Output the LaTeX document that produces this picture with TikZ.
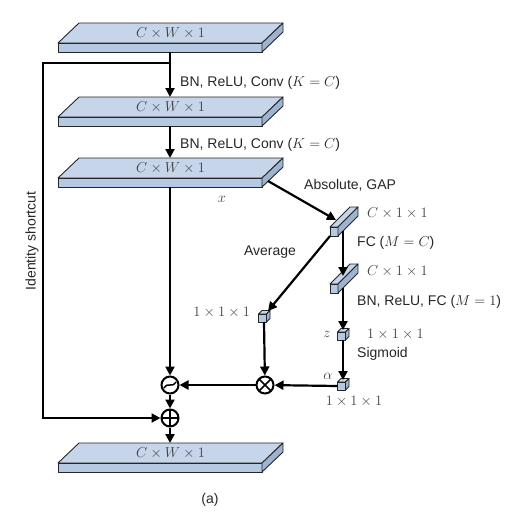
\documentclass[tikz,border=0pt]{standalone}
\usepackage{fontspec}
\usepackage{amsmath}
\setsansfont{Liberation Sans}
\usetikzlibrary{arrows.meta,calc}
\definecolor{slabtop}{RGB}{198,213,234}
\definecolor{slabfront}{RGB}{181,201,226}
\definecolor{slabside}{RGB}{157,179,208}

\tikzset{
  edge/.style={line width=2.2pt, -{Triangle[length=9pt,width=9pt]}},
  face/.style={draw=black!85, line width=0.9pt, line join=round},
  lbl/.style={font=\fontsize{14}{16}\selectfont\sffamily, text=black!85, inner sep=1pt},
  dim/.style={font=\fontsize{14}{16}\selectfont, text=black!75, inner sep=1pt},
  op/.style={circle, draw, line width=2pt, minimum size=17pt, inner sep=0pt},
  times/.style={op, path picture={\draw[line width=1.5pt]
      ([shift={(45:9pt)}]path picture bounding box.center) -- ([shift={(225:9pt)}]path picture bounding box.center)
      ([shift={(135:9pt)}]path picture bounding box.center) -- ([shift={(315:9pt)}]path picture bounding box.center);}},
  plus/.style={op, path picture={\draw[line width=1.5pt]
      (path picture bounding box.north) -- (path picture bounding box.south)
      (path picture bounding box.west) -- (path picture bounding box.east);}},
  divide/.style={op, path picture={\draw[line width=1.5pt]
      ([shift={(-6pt,-3pt)}]path picture bounding box.center) .. controls ([shift={(-1pt,4pt)}]path picture bounding box.center)
      and ([shift={(1pt,-4pt)}]path picture bounding box.center) .. ([shift={(6pt,3pt)}]path picture bounding box.center);}},
}

% flat feature map C x W x 1: name, y of front edge, text
\newcommand{\slab}[3]{%
  \draw[face, fill=slabtop] (58,#2) -- (79,#2-20) -- (283,#2-20) -- (262,#2) -- cycle;
  \draw[face, fill=slabfront] (58,#2) rectangle (262,#2+9);
  \draw[face, fill=slabside] (262,#2) -- (283,#2-20) -- (283,#2-11) -- (262,#2+9) -- cycle;
  \node[dim] (#1) at (170.5,#2-10) {#3};
  \coordinate (#1-in) at (170,#2-20);
  \coordinate (#1-out) at (170,#2+9);
  \coordinate (#1-side) at (268,#2+3);
}
% channel vector C x 1 x 1: name, x and y of front face corner
\newcommand{\rod}[3]{%
  \draw[face, fill=slabtop] (#2,#3) -- (#2+20,#3-20) -- (#2+28,#3-20) -- (#2+8,#3) -- cycle;
  \draw[face, fill=slabfront] (#2,#3) rectangle (#2+8,#3+9);
  \draw[face, fill=slabside] (#2+8,#3) -- (#2+28,#3-20) -- (#2+28,#3-11) -- (#2+8,#3+9) -- cycle;
  \coordinate (#1-top) at (#2+13,#3-8);
  \coordinate (#1-bot) at (#2+13,#3+4);
  \coordinate (#1-edge) at (#2+6,#3-7);
  \coordinate (#1-corner) at (#2,#3+9);
}
% scalar 1 x 1 x 1: name, centre
\newcommand{\cubelet}[3]{%
  \draw[face, fill=slabtop] (#2-5.5,#3-2) -- (#2-2,#3-5.5) -- (#2+6,#3-5.5) -- (#2+2.5,#3-2) -- cycle;
  \draw[face, fill=slabfront] (#2-5.5,#3-2) rectangle (#2+2.5,#3+6);
  \draw[face, fill=slabside] (#2+2.5,#3-2) -- (#2+6,#3-5.5) -- (#2+6,#3+2.5) -- (#2+2.5,#3+6) -- cycle;
  \coordinate (#1-n) at (#2,#3-4);
  \coordinate (#1-s) at (#2,#3+6);
  \coordinate (#1-w) at (#2-5.5,#3+2);
  \coordinate (#1-ne) at (#2+4,#3-5);
}

\begin{document}
\begin{tikzpicture}[x=1pt,y=-1pt]
  \useasboundingbox (0,0) rectangle (514,525);

  % feature maps
  \slab{inp}{43}{$C \times W \times 1$}
  \slab{mid}{117}{$C \times W \times 1$}
  \slab{feat}{178}{$C \times W \times 1$}
  \slab{res}{463}{$C \times W \times 1$}

  % threshold branch
  \rod{gap}{330}{227}
  \rod{fc}{330}{284}
  \cubelet{avg}{264}{316}
  \cubelet{z}{343}{334}
  \cubelet{alpha}{343}{384}

  \node[divide] (div) at (170,385) {};
  \node[plus] (add) at (170,418) {};
  \node[times] (mul) at (265,385) {};

  \coordinate (fork) at (170,63);
  \coordinate (sc-a) at (43,63);
  \coordinate (sc-b) at (43,418);

  % connectors
  \draw[edge] (inp-out) -- (mid-in);
  \draw[edge] (mid-out) -- (feat-in);
  \draw[edge] (feat-out) -- (div);
  \draw[edge] (div) -- (add);
  \draw[edge] (add) -- (res-in);
  \draw[edge, line join=miter] (fork) -- (sc-a) -- (sc-b) -- (add);
  \draw[edge] (feat-side) -- (gap-edge);
  \draw[edge] (gap-corner) -- (avg-ne);
  \draw[edge] (gap-bot) -- (fc-top);
  \draw[edge] (fc-bot) -- (z-n);
  \draw[edge] (z-s) -- (alpha-n);
  \draw[edge] (avg-s) -- (mul);
  \draw[edge] (alpha-w) -- (mul);
  \draw[edge] (mul) -- (div);

  % labels
  \node[lbl, anchor=west] (l-conv1) at (179,83) {BN, ReLU, Conv ($K = C$)};
  \node[lbl, anchor=west] (l-conv2) at (179,145) {BN, ReLU, Conv ($K = C$)};
  \node[dim] (l-x) at (222,199) {$x$};
  \node[lbl, anchor=west] (l-gap) at (303,185) {Absolute, GAP};
  \node[dim, anchor=west] (l-gapdim) at (366,213) {$C \times 1 \times 1$};
  \node[lbl, anchor=west] (l-fc1) at (356,243) {FC ($M = C$)};
  \node[dim, anchor=west] (l-fcdim) at (366,271) {$C \times 1 \times 1$};
  \node[lbl, anchor=west] (l-fc2) at (356,302) {BN, ReLU, FC ($M = 1$)};
  \node[dim] (l-z) at (327,334) {$z$};
  \node[dim, anchor=west] (l-zdim) at (366,334) {$1 \times 1 \times 1$};
  \node[lbl, anchor=west] (l-sig) at (356,354) {Sigmoid};
  \node[dim] (l-alpha) at (328,376) {$\alpha$};
  \node[dim] (l-alphadim) at (354,401) {$1 \times 1 \times 1$};
  \node[dim, anchor=east] (l-avgdim) at (251,312) {$1 \times 1 \times 1$};
  \node[lbl] (l-avg) at (270,252) {Average};
  \node[lbl, rotate=90] (l-id) at (32,241) {Identity shortcut};
  \node[lbl] (l-a) at (210,500) {(a)};
\end{tikzpicture}
\end{document}
